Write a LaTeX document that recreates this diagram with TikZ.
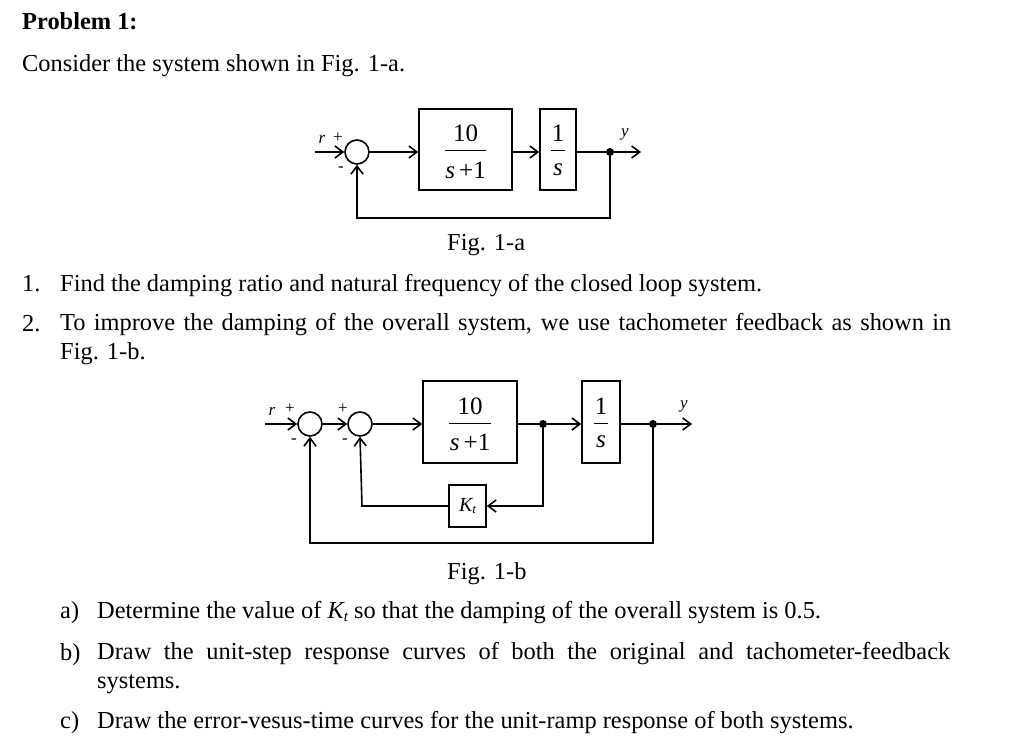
\documentclass[tikz,border=0pt]{standalone}
\usepackage{fontspec}
\setmainfont{Liberation Serif}
\usetikzlibrary{arrows.meta}
\begin{document}
\begin{tikzpicture}[x=1pt,y=-1pt,
  txt/.style={anchor=base west,inner sep=0pt,font=\fontsize{24.4}{29}\selectfont},
  blk/.style={draw,line width=1.6pt,inner sep=0pt},
  sumc/.style={draw,circle,line width=1.6pt,minimum size=24pt,inner sep=0pt},
  sig/.style={line width=1.6pt,-{Straight Barb[length=8pt,width=12pt,line width=1.6pt]}},
  ln/.style={line width=1.6pt},
  dot/.style={circle,fill,minimum size=8pt,inner sep=0pt},
  sm/.style={font=\fontsize{17}{19}\selectfont,inner sep=0pt},
  fr/.style={font=\fontsize{25}{29}\selectfont,inner sep=0pt}]
\useasboundingbox (0,0) rectangle (1024,746);
\node[txt,font=\bfseries\fontsize{24.4}{29}\selectfont] (t0) at (22,30) {Problem 1:};
\node[txt] (t1) at (22,72) {Consider the system shown in Fig. 1-a.};
% Fig 1-a
\node[sumc] (s1) at (357,152) {};
\coordinate (r1) at (315,152);
\node[blk,minimum width=93pt,minimum height=81pt] (g1) at (465.5,149.5) {};
\node[fr] at (465.5,133) {10};
\draw[line width=1pt] (445,151) -- (486,151);
\node[fr] at (465.5,170) {\textit{s}\,+1};
\node[blk,minimum width=36pt,minimum height=81pt] (g2) at (558,149.5) {};
\node[fr] at (558,133) {1};
\draw[line width=1pt] (551,151) -- (565,151);
\node[fr] at (558,170) {\textit{s}};
\node[dot] (o1) at (610,152) {};
\coordinate (y1) at (641,152);
\draw[sig] (r1) -- (s1.west);
\draw[sig] (s1.east) -- (g1.west|-s1);
\draw[sig] (g1.east|-s1) -- (g2.west|-s1);
\draw[ln] (g2.east|-s1) -- (o1);
\draw[sig] (o1) -- (y1);
\draw[sig] (o1) -- (610,218) -- (357,218) -- (s1.south);
\node[sm] at (322,139) {\textit{r}};
\node[sm] at (338,138) {+};
\node[sm] at (341,169) {-};
\node[sm] at (625,134) {\textit{y}};
\node[txt] (f1) at (447,250) {Fig. 1-a};
\node[txt] at (22,291) {1.};
\node[txt] at (60,291) {Find the damping ratio and natural frequency of the closed loop system.};
\node[txt] at (22,331) {2.};
\node[txt,anchor=north west,text width=891pt,align=justify] at (60,313) {\hyphenpenalty=10000 To improve the damping of the overall system, we use tachometer feedback as shown in\linebreak Fig. 1-b.};
% Fig 1-b
\node[sumc] (s2) at (310,424) {};
\node[sumc] (s3) at (360,424) {};
\coordinate (r2) at (265,424);
\node[blk,minimum width=94pt,minimum height=82pt] (h1) at (470,422) {};
\node[fr] at (470,406) {10};
\draw[line width=1pt] (449,423) -- (491,423);
\node[fr] at (470,442) {\textit{s}\,+1};
\node[dot] (j1) at (543,424) {};
\node[blk,minimum width=38pt,minimum height=82pt] (h2) at (601,422) {};
\node[fr] at (601,406) {1};
\draw[line width=1pt] (594,423) -- (608,423);
\node[fr] at (601,442) {\textit{s}};
\node[dot] (o2) at (653,424) {};
\coordinate (y2) at (692,424);
\node[blk,minimum width=37pt,minimum height=42pt,font=\fontsize{20}{22}\selectfont] (kt) at (467.5,506) {\textit{K\raisebox{-0.3ex}{\fontsize{13}{14}\selectfont t}}};
\draw[sig] (r2) -- (s2.west);
\draw[sig] (s2.east) -- (s3.west);
\draw[sig] (s3.east) -- (h1.west|-s3);
\draw[ln] (h1.east|-s3) -- (j1);
\draw[sig] (j1) -- (h2.west|-s3);
\draw[ln] (h2.east|-s3) -- (o2);
\draw[sig] (o2) -- (y2);
\draw[sig] (j1) -- (543,506) -- (kt.east);
\draw[sig] (kt.west) -- (362,506) -- (s3.south);
\draw[sig] (o2) -- (653,543) -- (310,543) -- (s2.south);
\node[sm] at (272,411) {\textit{r}};
\node[sm] at (290,409) {+};
\node[sm] at (294,441) {-};
\node[sm] at (343,409) {+};
\node[sm] at (345,441) {-};
\node[sm] at (684,406) {\textit{y}};
\node[txt] (f2) at (447,579) {Fig. 1-b};
\node[txt] at (60,618) {a)};
\node[txt] at (97,618) {Determine the value of \textit{K\raisebox{-0.3ex}{\fontsize{15}{17}\selectfont t}} so that the damping of the overall system is 0.5.};
\node[txt] at (60,660) {b)};
\node[txt,anchor=north west,text width=853pt,align=justify] at (97,642) {\hyphenpenalty=10000 Draw the unit-step response curves of both the original and tachometer-feedback\linebreak systems.};
\node[txt] at (60,728) {c)};
\node[txt] at (97,728) {Draw the error-vesus-time curves for the unit-ramp response of both systems.};
\end{tikzpicture}
\end{document}
